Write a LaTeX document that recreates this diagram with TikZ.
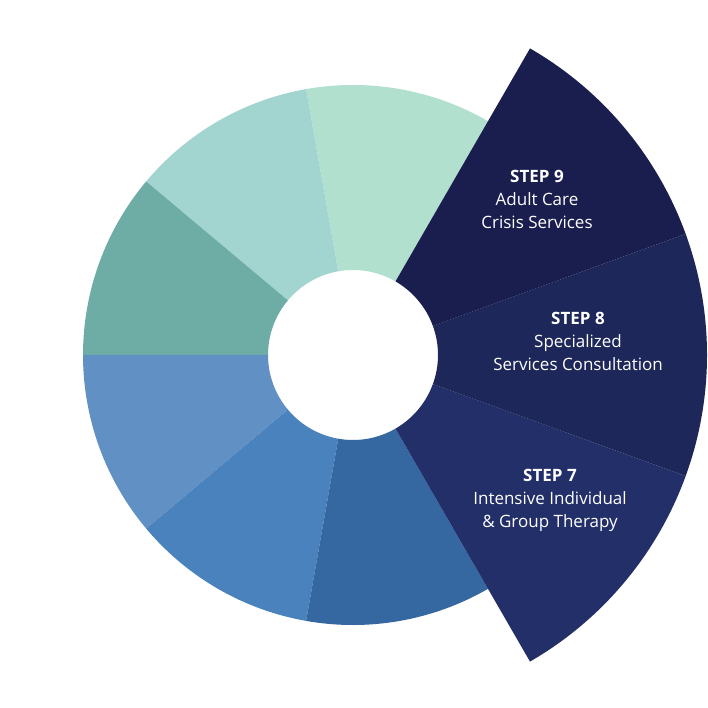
\documentclass[tikz,border=0pt]{standalone}
\usepackage{fontspec}
\setmainfont{Open Sans}
\begin{document}
\begin{tikzpicture}[x=1pt,y=1pt,
  lbl/.style={text=white,font=\fontsize{17}{23}\selectfont,align=center,inner sep=0}]
\useasboundingbox (0,0) rectangle (708,707);
\fill[white] (0,0) rectangle (708,707);
\coordinate (c) at (353,352);
\definecolor{s1}{HTML}{B2E0CF}
\definecolor{s2}{HTML}{A3D5D0}
\definecolor{s3}{HTML}{6DADA6}
\definecolor{s4}{HTML}{6190C4}
\definecolor{s5}{HTML}{4A82BD}
\definecolor{s6}{HTML}{3567A0}
\definecolor{b7}{HTML}{222F68}
\definecolor{b8}{HTML}{1E275A}
\definecolor{b9}{HTML}{191E4E}
\foreach \a/\col in {60/s1,100/s2,140/s3,180/s4,220/s5,260/s6}{
  \fill[\col] ([shift={(\a:85)}]c) arc[start angle=\a,end angle=\a+40,radius=85]
    -- ([shift={(\a+40:270)}]c) arc[start angle=\a+40,end angle=\a,radius=270] -- cycle;
}
\foreach \a/\col in {-60/b7,-20/b8,20/b9}{
  \fill[\col] ([shift={(\a:85)}]c) arc[start angle=\a,end angle=\a+40,radius=85]
    -- ([shift={(\a+40:354)}]c) arc[start angle=\a+40,end angle=\a,radius=354] -- cycle;
}
\node[lbl] (t9) at (537,508) {\textbf{STEP 9}\\Adult Care\\Crisis Services};
\node[lbl] (t8) at (578,366) {\textbf{STEP 8}\\Specialized\\Services Consultation};
\node[lbl] (t7) at (550,207) {\textbf{STEP 7}\\Intensive Individual\\\& Group Therapy};
\end{tikzpicture}
\end{document}
